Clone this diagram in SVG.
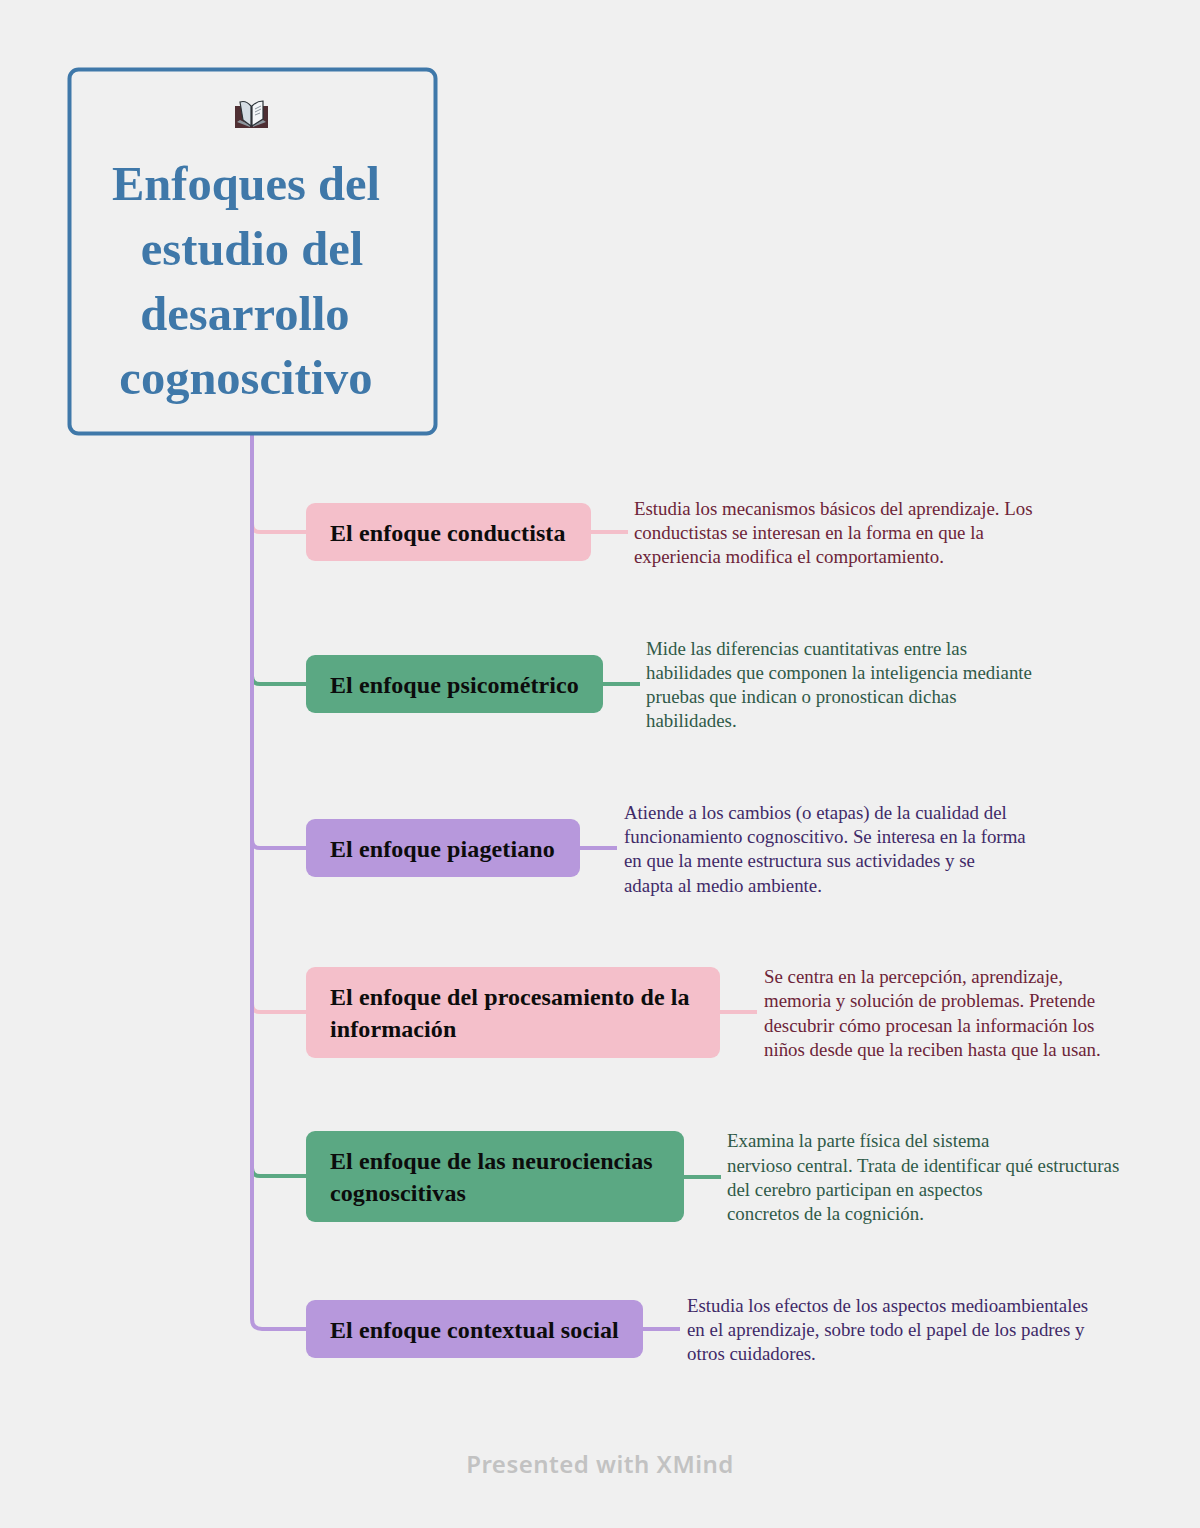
<svg xmlns="http://www.w3.org/2000/svg" width="1200" height="1528" viewBox="0 0 1200 1528">
<style>
text{font-family:"Liberation Serif","Times New Roman",serif}
.t{font-size:48.5px;font-weight:700;fill:#3f78a9;text-anchor:middle}
.n{font-size:24px;font-weight:700;fill:#0c0c0c;letter-spacing:.1px}
.d{font-size:18.88px}
.c{fill:none;stroke-width:4;stroke-linecap:butt}
.pk{stroke:#f4bfca}.gr{stroke:#5ba883}.pu{stroke:#b798dc}
.dr{fill:#6d2438}.dg{fill:#2f5a48}.dp{fill:#3f2a68}
</style>
<rect width="1200" height="1528" fill="#f0f0f0"/>
<g id="connectors">
<path class="c pk" d="M252 524Q252 532 260 532H306"/>
<path class="c gr" d="M252 676Q252 684 260 684H306"/>
<path class="c pu" d="M252 840Q252 848 260 848H306"/>
<path class="c pk" d="M252 1004Q252 1012 260 1012H306"/>
<path class="c gr" d="M252 1168Q252 1176 260 1176H306"/>
<path class="c pu" d="M252 434V1319Q252 1329 262 1329H306"/>
<path class="c pk" d="M591 532H628"/>
<path class="c gr" d="M603 684H640"/>
<path class="c pu" d="M580 848H617"/>
<path class="c pk" d="M720 1012H757"/>
<path class="c gr" d="M684 1177H721"/>
<path class="c pu" d="M643 1329H680"/>
</g>
<g id="root">
<rect x="69.500" y="69.500" width="366" height="364" rx="9" fill="#f0f0f0" stroke="#3f78a9" stroke-width="4"/>
<g id="book-icon">
<path d="M235 106H268V128H235Z" fill="#4f2f33"/>
<path d="M237 122L250 127V125L240 120Z" fill="#8d979e"/>
<path d="M266 122L253 127V125L263 120Z" fill="#8d979e"/>
<path d="M240 102L243 120L251 126V106Q246 100 240 102Z" fill="#d5dde4" stroke="#2c3338" stroke-width="1.2"/>
<path d="M263 101L263 119L252 126V106Q257 101 263 101Z" fill="#f4f6f8" stroke="#2c3338" stroke-width="1.2"/>
<path d="M255 109L261 106M255 112L261 109M255 115L260 113" stroke="#8a949c" stroke-width="1" fill="none"/>
</g>
<text class="t" x="246" y="199.500">Enfoques del</text>
<text class="t" x="252" y="264.500">estudio del</text>
<text class="t" x="245" y="329.500">desarrollo</text>
<text class="t" x="246" y="393.500">cognoscitivo</text>
</g>
<g id="n1">
<rect x="306" y="503" width="285" height="58" rx="9" fill="#f4bfca"/>
<text class="n" x="330" y="541">El enfoque conductista</text>
<g class="dr"><text class="d" x="634" y="515">Estudia los mecanismos básicos del aprendizaje. Los</text><text class="d" x="634" y="539">conductistas se interesan en la forma en que la</text><text class="d" x="634" y="563">experiencia modifica el comportamiento.</text></g>
</g>
<g id="n2">
<rect x="306" y="655" width="297" height="58" rx="9" fill="#5ba883"/>
<text class="n" x="330" y="693">El enfoque psicométrico</text>
<g class="dg"><text class="d" x="646" y="655">Mide las diferencias cuantitativas entre las</text><text class="d" x="646" y="679">habilidades que componen la inteligencia mediante</text><text class="d" x="646" y="703">pruebas que indican o pronostican dichas</text><text class="d" x="646" y="727">habilidades.</text></g>
</g>
<g id="n3">
<rect x="306" y="819" width="274" height="58" rx="9" fill="#b798dc"/>
<text class="n" x="330" y="857">El enfoque piagetiano</text>
<g class="dp"><text class="d" x="624" y="819">Atiende a los cambios (o etapas) de la cualidad del</text><text class="d" x="624" y="843">funcionamiento cognoscitivo. Se interesa en la forma</text><text class="d" x="624" y="867">en que la mente estructura sus actividades y se</text><text class="d" x="624" y="892">adapta al medio ambiente.</text></g>
</g>
<g id="n4">
<rect x="306" y="967" width="414" height="91" rx="9" fill="#f4bfca"/>
<text class="n" x="330" y="1005">El enfoque del procesamiento de la</text>
<text class="n" x="330" y="1037">información</text>
<g class="dr"><text class="d" x="764" y="983">Se centra en la percepción, aprendizaje,</text><text class="d" x="764" y="1007">memoria y solución de problemas. Pretende</text><text class="d" x="764" y="1032">descubrir cómo procesan la información los</text><text class="d" x="764" y="1056">niños desde que la reciben hasta que la usan.</text></g>
</g>
<g id="n5">
<rect x="306" y="1131" width="378" height="91" rx="9" fill="#5ba883"/>
<text class="n" x="330" y="1169">El enfoque de las neurociencias</text>
<text class="n" x="330" y="1201">cognoscitivas</text>
<g class="dg"><text class="d" x="727" y="1147">Examina la parte física del sistema</text><text class="d" x="727" y="1172">nervioso central. Trata de identificar qué estructuras</text><text class="d" x="727" y="1196">del cerebro participan en aspectos</text><text class="d" x="727" y="1220">concretos de la cognición.</text></g>
</g>
<g id="n6">
<rect x="306" y="1300" width="337" height="58" rx="9" fill="#b798dc"/>
<text class="n" x="330" y="1338">El enfoque contextual social</text>
<g class="dp"><text class="d" x="687" y="1312">Estudia los efectos de los aspectos medioambientales</text><text class="d" x="687" y="1336">en el aprendizaje, sobre todo el papel de los padres y</text><text class="d" x="687" y="1360">otros cuidadores.</text></g>
</g>
<text id="footer" x="600" y="1473" text-anchor="middle" style="font-family:'Noto Sans','Open Sans',sans-serif;font-size:24px;font-weight:600;fill:#c2c2c2;letter-spacing:.5px">Presented with XMind</text>
</svg>
